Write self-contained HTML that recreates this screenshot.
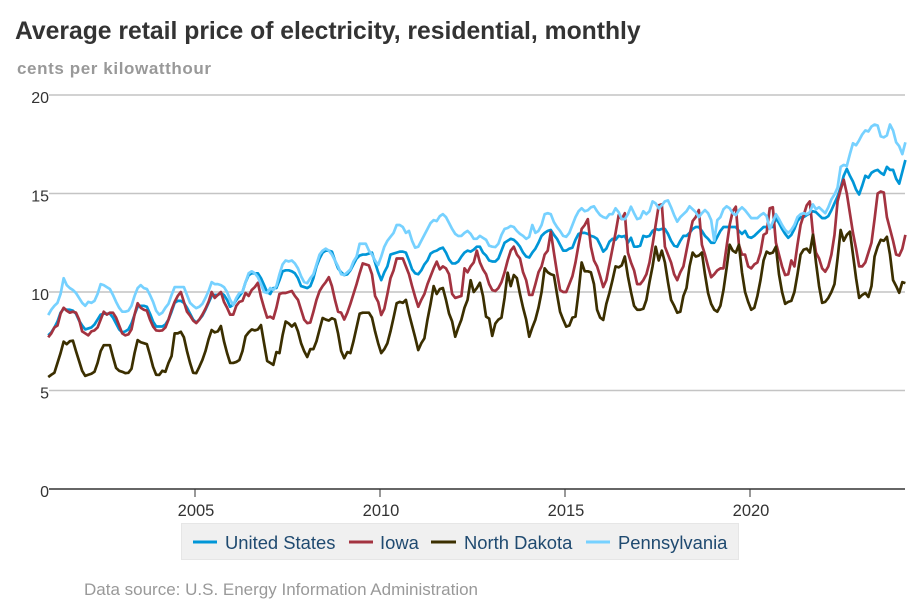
<!DOCTYPE html>
<html>
<head>
<meta charset="utf-8">
<style>
html,body{margin:0;padding:0;background:#fff;}
#chart{display:block;width:920px;height:613px;font-family:"Liberation Sans",sans-serif;}
</style>
</head>
<body>
<svg id="chart" xmlns="http://www.w3.org/2000/svg" width="920" height="613" viewBox="0 0 920 613">
<rect x="0" y="0" width="920" height="613" fill="#ffffff"/>
<text x="15" y="39" font-size="24.7" font-weight="bold" fill="#333333">Average retail price of electricity, residential, monthly</text>
<text x="17" y="74" font-size="17" font-weight="bold" fill="#999999" letter-spacing="0.6">cents per kilowatthour</text>
<g id="grid"></g>
<g id="series"></g>
<g id="axis"></g>
<g>
<rect x="181.5" y="523.5" width="557" height="36" fill="#f0f0f0" stroke="#e6e6e6"/>
<g>
<line x1="193" x2="217" y1="542" y2="542" stroke="#0096d7" stroke-width="3"/>
<text x="225" y="549" font-size="18.4" fill="#1f4a70">United States</text>
</g>
<g>
<line x1="349" x2="373" y1="542" y2="542" stroke="#a33340" stroke-width="3"/>
<text x="380" y="549" font-size="18.4" fill="#1f4a70">Iowa</text>
</g>
<g>
<line x1="431" x2="456" y1="542" y2="542" stroke="#3b2f00" stroke-width="3"/>
<text x="464" y="549" font-size="18.4" fill="#1f4a70">North Dakota</text>
</g>
<g>
<line x1="586" x2="610" y1="542" y2="542" stroke="#76d1ff" stroke-width="3"/>
<text x="618" y="549" font-size="18.4" fill="#1f4a70">Pennsylvania</text>
</g>
</g>
<text x="84" y="595" font-size="17" fill="#999999">Data source: U.S. Energy Information Administration</text>
</svg>
<script>
var startYear = 2001;
var yTicks = [0, 5, 10, 15, 20];
var xTickYears = [2005, 2010, 2015, 2020];
var unitedStates = [
7.8,7.95,8.2,8.5,8.95,9.15,9.1,9.1,9.05,8.9,8.55,8.3,
8.1,8.15,8.2,8.35,8.6,8.85,8.9,8.9,8.9,8.7,8.4,8.1,
7.95,8.0,8.1,8.4,8.85,9.25,9.3,9.3,9.25,8.9,8.5,8.25,
8.25,8.25,8.35,8.6,9.0,9.45,9.55,9.55,9.45,9.2,8.9,8.6,
8.45,8.6,8.8,9.1,9.45,9.8,9.85,9.85,9.95,9.85,9.6,9.25,
9.35,9.6,9.8,10.0,10.5,10.85,10.95,10.95,10.95,10.7,10.35,10.0,
9.9,10.2,10.2,10.6,11.05,11.1,11.1,11.05,10.95,10.7,10.3,10.25,
10.2,10.3,10.7,11.3,11.7,12.0,12.1,12.1,12.05,11.6,11.2,11.0,
10.86,10.9,11.1,11.4,11.7,11.85,11.9,11.9,11.95,12.0,11.5,11.0,
10.6,11.0,11.3,11.9,11.95,12.0,12.05,12.05,12.0,11.6,11.15,10.95,
10.9,11.1,11.4,11.6,11.95,12.05,12.1,12.2,12.25,12.0,11.65,11.45,
11.45,11.55,11.8,12.0,12.1,12.05,12.15,12.3,12.3,12.0,11.85,11.6,
11.55,11.55,11.7,12.1,12.5,12.6,12.7,12.65,12.5,12.3,12.0,11.8,
11.75,12.0,12.2,12.5,12.85,13.0,13.1,13.15,12.9,12.7,12.4,12.1,
12.1,12.2,12.25,12.65,12.95,13.0,13.0,12.95,12.85,12.8,12.7,12.4,
12.05,12.2,12.55,12.7,12.65,12.85,12.8,12.85,12.5,12.75,12.3,12.3,
12.35,12.85,12.8,12.85,13.1,13.2,13.15,13.2,13.2,12.95,12.6,12.35,
12.3,12.6,12.85,12.85,13.0,13.2,13.3,13.3,13.1,12.85,12.7,12.5,
12.5,12.8,13.1,13.3,13.3,13.3,13.3,13.3,13.1,12.95,13.1,12.8,
12.75,12.85,13.0,13.15,13.3,13.3,13.3,13.3,13.75,13.5,13.2,12.95,
12.75,12.9,13.2,13.6,13.8,13.8,13.9,14.0,14.1,14.05,13.9,13.75,
13.75,13.85,14.15,14.5,14.85,15.3,15.9,16.25,15.9,15.6,15.2,14.95,
15.4,15.9,15.8,16.05,16.15,16.2,16.05,15.95,16.35,16.2,16.2,15.75,
15.5,16.1,16.7];
var iowa = [
7.7,7.9,8.2,8.3,8.9,9.2,9.05,8.95,9.0,8.95,8.6,8.0,
7.9,7.8,8.0,8.05,8.2,8.6,9.0,8.85,8.95,8.95,8.7,8.3,
7.9,7.8,7.85,8.1,8.85,9.43,9.2,9.1,9.05,8.6,8.25,8.05,
8.03,8.05,8.2,8.6,9.1,9.5,9.8,10.0,9.5,9.0,8.8,8.55,
8.42,8.6,8.85,9.15,9.5,10.0,9.7,9.85,10.0,9.5,9.2,8.85,
8.85,9.3,9.5,9.55,9.95,9.8,10.1,10.25,10.47,9.75,9.2,8.7,
8.75,8.65,9.2,9.9,9.95,9.95,10.0,10.05,9.8,9.6,9.1,8.6,
8.42,8.45,9.0,9.6,10.05,10.3,10.5,10.75,10.3,9.6,9.0,8.95,
8.6,8.95,9.4,9.9,10.4,10.95,11.45,11.4,11.35,10.9,9.8,9.5,
8.83,9.15,9.9,10.7,11.1,11.7,11.7,11.7,11.3,10.9,10.3,9.75,
9.25,9.6,9.9,10.4,10.8,11.2,11.54,11.15,11.3,11.2,10.9,9.9,
9.7,9.75,9.8,11.2,11.0,11.3,11.5,12.1,11.5,11.15,10.9,10.4,
10.1,10.05,10.2,10.5,11.0,11.6,12.1,12.3,11.9,11.7,11.0,10.6,
9.85,9.85,10.4,11.0,11.3,11.9,12.1,13.06,12.0,11.0,10.1,10.0,
10.0,10.4,10.8,11.5,12.4,13.2,13.4,13.7,12.3,11.6,11.3,10.8,
10.25,10.6,11.4,12.2,13.0,13.9,13.7,14.0,12.0,11.5,11.1,10.4,
10.4,10.6,10.9,11.5,12.4,13.4,14.4,14.45,12.3,11.9,11.5,10.9,
10.6,11.0,11.3,12.1,12.9,13.6,13.8,14.16,12.4,11.9,11.3,10.75,
10.9,11.1,11.2,11.2,12.3,13.4,14.1,14.33,12.4,11.9,11.9,11.3,
11.2,11.4,11.5,12.0,12.9,13.0,14.25,14.3,12.5,11.9,11.3,10.86,
10.9,11.6,11.3,12.4,13.4,13.9,14.4,14.6,13.0,12.0,11.7,11.2,
11.03,11.3,11.9,12.9,14.6,15.2,15.7,15.0,14.0,13.0,12.2,11.3,
11.3,11.5,12.0,12.5,13.7,15.0,15.1,15.05,13.8,13.2,12.6,11.9,
11.85,12.2,12.9];
var northDakota = [
5.68,5.8,5.9,6.4,6.9,7.48,7.35,7.5,7.53,7.0,6.5,6.0,
5.74,5.8,5.85,5.95,6.4,7.0,7.3,7.3,7.3,6.7,6.15,6.0,
5.95,5.88,5.9,6.1,6.9,7.56,7.45,7.4,7.35,6.8,6.2,5.8,
5.79,6.0,5.95,6.4,6.75,7.9,7.9,7.98,7.7,7.0,6.4,5.9,
5.88,6.2,6.55,7.0,7.6,8.07,7.95,8.0,8.27,7.5,6.9,6.4,
6.4,6.45,6.55,7.0,7.75,7.95,8.1,8.05,8.1,8.32,7.4,6.5,
6.4,6.3,6.95,6.9,7.8,8.5,8.4,8.25,8.4,8.0,7.4,7.0,
6.7,7.1,7.1,7.5,8.1,8.68,8.6,8.55,8.67,8.6,7.9,7.0,
6.64,6.95,6.9,7.5,8.2,8.9,8.95,8.95,8.95,8.7,8.0,7.4,
6.9,7.1,7.4,8.0,8.7,9.43,9.5,9.45,9.6,8.9,8.3,7.7,
7.05,7.4,7.65,8.6,9.4,10.3,9.9,10.15,10.2,9.6,8.9,8.5,
7.73,8.2,8.6,9.2,9.6,10.6,10.0,10.2,10.47,9.8,8.75,8.65,
7.77,8.4,8.6,8.7,9.7,10.98,10.3,10.86,10.7,9.9,9.2,8.6,
7.73,8.2,8.6,9.2,10.0,11.2,11.0,10.9,10.85,9.9,9.0,8.6,
8.24,8.3,8.7,8.75,10.0,11.5,11.05,11.05,11.0,10.4,9.1,8.7,
8.58,9.4,9.95,10.6,11.3,11.25,11.35,11.8,10.8,10.0,9.3,9.1,
9.1,9.15,9.6,10.5,11.3,12.3,11.6,12.1,11.5,10.5,9.6,9.3,
8.95,9.0,9.8,10.2,11.3,12.0,11.8,11.85,12.0,10.9,9.95,9.4,
9.1,9.0,9.3,10.1,11.2,12.4,12.1,12.0,12.4,11.0,10.0,9.5,
9.1,9.2,9.8,10.6,11.6,12.05,11.95,12.0,12.3,10.9,10.0,9.4,
9.5,9.55,10.0,10.9,11.9,12.15,12.2,12.0,12.9,11.5,10.3,9.45,
9.5,9.7,10.0,10.4,11.7,13.15,12.6,12.9,13.06,11.9,10.7,9.7,
9.85,9.95,9.75,10.3,11.8,12.3,12.65,12.6,12.8,11.9,10.6,10.3,
9.96,10.5,10.45];
var pennsylvania = [
8.83,9.1,9.3,9.45,9.9,10.7,10.35,10.2,10.1,9.95,9.7,9.45,
9.3,9.5,9.45,9.55,9.9,10.4,10.35,10.25,10.15,9.85,9.5,9.2,
9.0,9.0,9.05,9.3,9.8,10.2,10.35,10.2,10.15,9.85,9.5,9.05,
8.85,8.95,9.2,9.4,9.85,10.25,10.25,10.25,10.25,9.85,9.45,9.3,
9.18,9.25,9.4,9.7,10.05,10.5,10.4,10.4,10.35,10.25,10.0,9.6,
9.34,9.7,9.95,10.0,10.5,10.95,11.05,10.95,10.75,10.4,10.0,9.95,
10.2,10.1,10.3,10.9,11.4,11.6,11.55,11.6,11.45,11.2,10.8,10.5,
10.45,10.7,10.9,11.4,11.9,12.1,12.2,12.1,11.9,11.6,11.3,10.9,
10.87,11.0,11.15,11.55,11.8,12.45,12.45,12.45,12.1,11.9,11.6,11.37,
11.8,12.3,12.6,12.8,13.0,13.4,13.4,13.3,13.0,13.1,12.6,12.25,
12.3,12.6,12.9,13.2,13.5,13.65,13.6,13.85,13.95,13.8,13.5,13.2,
12.95,12.84,12.85,13.0,13.1,12.95,12.7,12.7,12.85,12.75,12.65,12.35,
12.3,12.28,12.45,12.9,13.2,13.25,13.35,13.3,13.1,12.95,12.85,12.7,
12.8,13.4,13.0,13.1,13.4,13.95,14.0,13.95,13.55,13.3,13.1,12.85,
12.8,13.0,13.4,13.8,14.1,14.25,14.1,14.15,14.3,14.35,14.1,13.9,
13.8,13.75,13.95,13.95,14.25,14.05,13.7,13.7,13.95,14.33,14.0,13.7,
13.75,14.1,13.95,14.1,14.6,14.5,14.25,14.4,14.6,14.65,14.3,13.9,
13.57,13.8,13.95,14.1,14.35,14.2,14.05,13.8,14.0,14.16,14.0,13.65,
12.6,13.65,13.8,14.2,14.35,14.25,14.0,13.9,14.15,14.3,14.15,13.95,
13.75,13.75,13.75,13.9,14.0,13.85,13.2,13.55,13.95,13.7,13.4,13.15,
13.0,13.15,13.4,13.8,13.95,14.0,13.95,14.05,14.45,14.2,14.3,14.15,
14.0,14.3,14.7,14.95,15.3,16.35,16.45,16.4,17.0,17.55,17.45,17.7,
18.0,18.2,18.15,18.4,18.5,18.45,17.9,17.85,17.95,18.5,18.2,17.6,
17.4,17.0,17.6];

var svgNS = 'http://www.w3.org/2000/svg';
function yearX(year) { return 195 + 37 * (year - 2005); }
function monthX(i) { return yearX(startYear + (i + 0.4) / 12); }
function valueY(v) { return 489 - 19.7 * v; }
function make(tag, attrs, parent) {
  var el = document.createElementNS(svgNS, tag);
  for (var k in attrs) { el.setAttribute(k, attrs[k]); }
  parent.appendChild(el);
  return el;
}
var grid = document.getElementById('grid');
yTicks.forEach(function (t) {
  if (t !== 0) {
    var g = make('line', {x1: 49, x2: 905, y1: valueY(t), y2: valueY(t), stroke: '#c4c4c4', 'stroke-width': 1.4}, grid);
    
    
  }
  var lab = make('text', {x: 49, y: valueY(t) + 8, 'text-anchor': 'end', 'font-size': 16, fill: '#333333'}, grid);
  
  
  lab.textContent = t;
});
function drawSeries(name, values, color) {
  var pts = values.map(function (v, i) { return monthX(i).toFixed(2) + ',' + valueY(v).toFixed(2); }).join(' ');
  var line = make('polyline', {points: pts, fill: 'none', stroke: color, 'stroke-width': 2.7, 'stroke-linejoin': 'round', 'stroke-linecap': 'butt'}, document.getElementById('series'));
  
  
}
drawSeries('united-states', unitedStates, '#0096d7');
drawSeries('iowa', iowa, '#a33340');
drawSeries('north-dakota', northDakota, '#3b2f00');
drawSeries('pennsylvania', pennsylvania, '#76d1ff');
var axis = document.getElementById('axis');
var axisLine = make('line', {x1: 49, x2: 905, y1: 489, y2: 489, stroke: '#333333', 'stroke-width': 1.5}, axis);


xTickYears.forEach(function (yr) {
  var tick = make('line', {x1: yearX(yr), x2: yearX(yr), y1: 489, y2: 497, stroke: '#333333', 'stroke-width': 1}, axis);
  
  
  var lab = make('text', {x: yearX(yr) + 1, y: 516, 'text-anchor': 'middle', 'font-size': 16.5, fill: '#333333'}, axis);
  
  
  lab.textContent = yr;
});
</script>
</body>
</html>
